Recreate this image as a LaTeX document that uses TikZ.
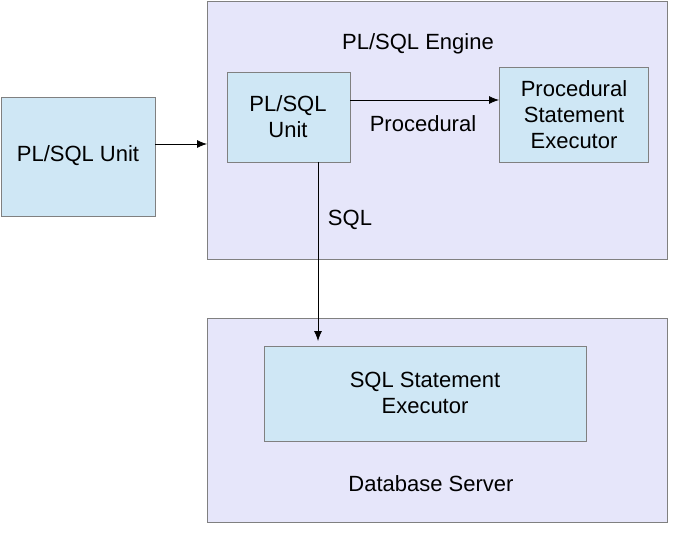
\documentclass[tikz,border=0pt]{standalone}
\usepackage{fontspec}
\setmainfont{Liberation Sans}
\usetikzlibrary{arrows.meta}
\begin{document}
\begin{tikzpicture}[x=1pt,y=-1pt,
  lbl/.style={font=\fontsize{22}{26}\selectfont,align=center},
  arr/.style={-{Latex[length=10pt,width=8pt]},line width=0.8pt}]
\useasboundingbox (0,0) rectangle (679,534);
\fill[white] (0,0) rectangle (679,534);
\definecolor{lav}{HTML}{E6E6FA}
\definecolor{lb}{HTML}{CFE7F5}
\tikzset{outer/.style={draw=gray,fill=lav},inner/.style={draw=gray,fill=lb}}
\draw[outer] (207,1) rectangle (667,259);
\draw[outer] (207,318) rectangle (667,522);
\draw[inner] (1,97) rectangle (155,216);
\draw[inner] (227,72) rectangle (350,162);
\draw[inner] (499,67) rectangle (648,162);
\draw[inner] (264,346) rectangle (586,441);
\node[lbl] (unit) at (78,156) {PL/SQL Unit};
\node[lbl] (iunit) at (288,117) {PL/SQL\\Unit};
\node[lbl] (proc) at (574,115) {Procedural\\Statement\\Executor};
\node[lbl] (sqlx) at (425,393) {SQL Statement\\Executor};
\node[lbl] (eng) at (418,44) {PL/SQL Engine};
\node[lbl] (dbs) at (431,484) {Database Server};
\node[lbl] (pl) at (423,124) {Procedural};
\node[lbl] (sq) at (350,220) {SQL};
\coordinate (a1) at (155,144); \coordinate (a2) at (207,144);
\coordinate (b1) at (350,100); \coordinate (b2) at (499,100);
\coordinate (c1) at (318,162); \coordinate (c2) at (318,341);
\draw[arr] (a1) -- (a2);
\draw[arr] (b1) -- (b2);
\draw[arr] (c1) -- (c2);
\end{tikzpicture}
\end{document}
